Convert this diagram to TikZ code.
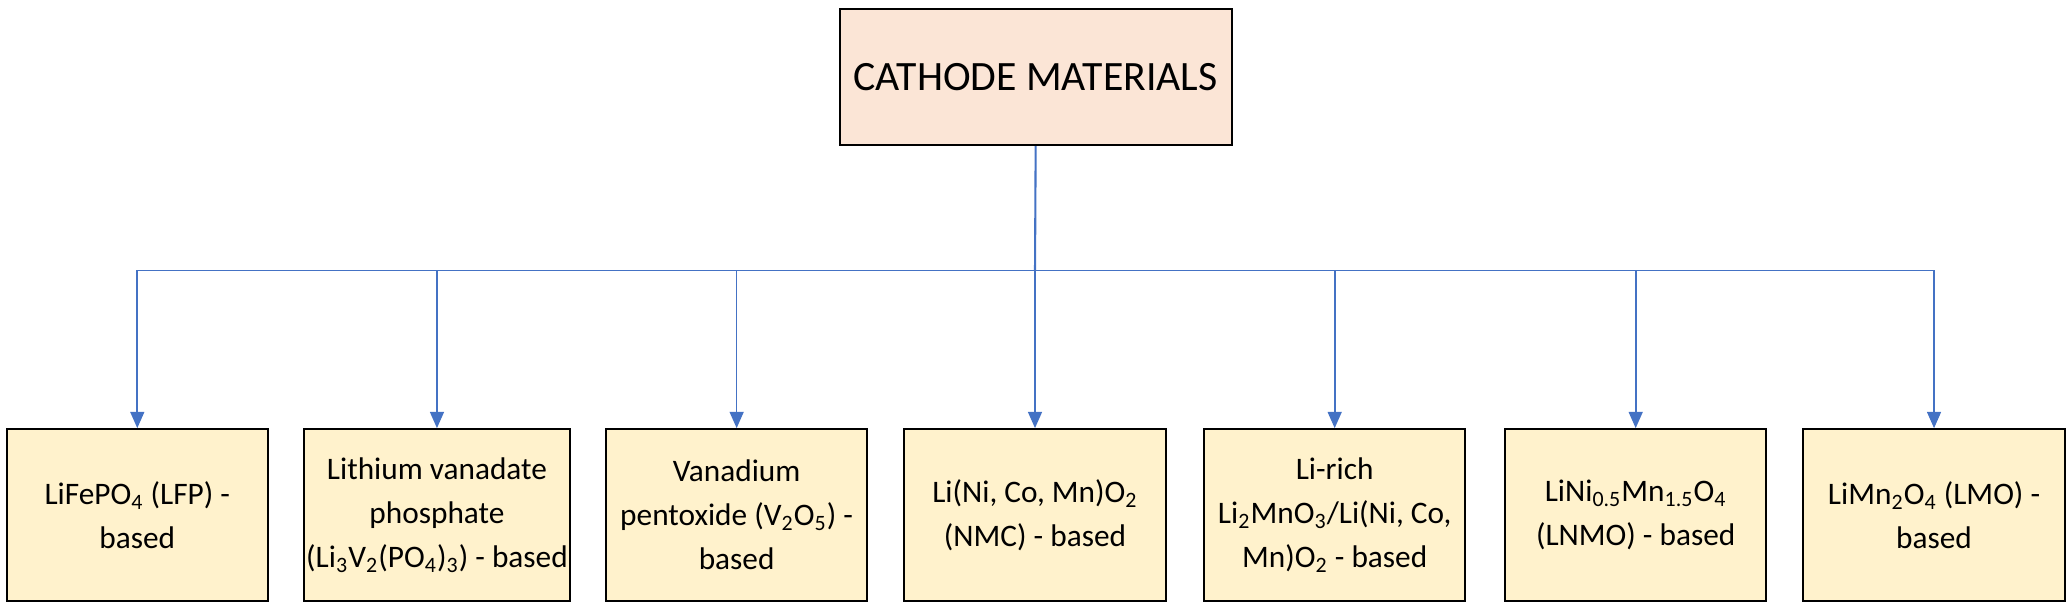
\documentclass[tikz,border=0pt]{standalone}
\usepackage{fontspec}
\setmainfont{Carlito}
\usetikzlibrary{arrows.meta}
\definecolor{topfill}{HTML}{FBE5D6}
\definecolor{botfill}{HTML}{FFF2CC}
\definecolor{lnk}{HTML}{4472C4}
\begin{document}
\begin{tikzpicture}[x=0.02cm,y=-0.02cm,
  box/.style={draw=black,line width=0.8pt,fill=botfill,minimum width=3.96cm,minimum height=2.6cm,align=center,font=\fontsize{13.5}{19}\selectfont,inner sep=1pt},
  link/.style={draw=lnk,line width=0.7pt,-{Triangle[length=7pt,width=6pt]}}]
\useasboundingbox (0,0) rectangle (1568,464);
\node[draw=black,line width=0.8pt,fill=topfill,minimum width=5.94cm,minimum height=2.06cm,font=\fontsize{18}{22}\selectfont] (top) at (784.5,58.5) {CATHODE MATERIALS};
\node[box] (b1) at (104,390) {LiFePO\textsubscript{4} (LFP) -\\based};
\node[box] (b2) at (331,390) {Lithium vanadate\\phosphate\\(Li\textsubscript{3}V\textsubscript{2}(PO\textsubscript{4})\textsubscript{3}) - based};
\node[box] (b3) at (558,390) {Vanadium\\pentoxide (V\textsubscript{2}O\textsubscript{5}) -\\based};
\node[box] (b4) at (784,390) {Li(Ni, Co, Mn)O\textsubscript{2}\\(NMC) - based};
\node[box] (b5) at (1011,390) {Li-rich\\Li\textsubscript{2}MnO\textsubscript{3}/Li(Ni, Co,\\Mn)O\textsubscript{2} - based};
\node[box] (b6) at (1239,390) {LiNi\textsubscript{0.5}Mn\textsubscript{1.5}O\textsubscript{4}\\(LNMO) - based};
\node[box] (b7) at (1465,390) {LiMn\textsubscript{2}O\textsubscript{4} (LMO) -\\based};
\coordinate (j) at (784,205);
\draw[lnk,line width=0.9pt] (top.south) -- (j);
\foreach \i in {1,...,7}{
  \draw[link] (j) -| (b\i.north);
}
\end{tikzpicture}
\end{document}
